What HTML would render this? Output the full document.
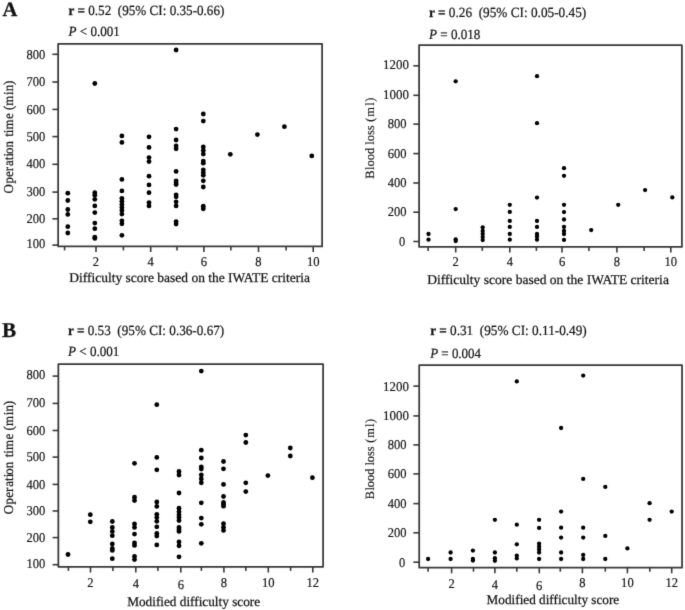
<!DOCTYPE html>
<html lang="en"><head><meta charset="utf-8"><title>Figure</title>
<style>html,body{margin:0;padding:0;background:#fff}body{width:685px;height:610px;overflow:hidden}svg{display:block}text{text-rendering:geometricPrecision;font-family:"Liberation Serif","Times New Roman",serif;font-size:14px;fill:#111;stroke:#222;stroke-width:0.22px}.tk line{stroke:#383838;stroke-width:1.6}.d circle{fill:#000}.pl{font-weight:bold;font-size:20.2px;stroke-width:0.3px}.b{font-weight:bold;stroke-width:0.3px}.i{font-style:italic}.ax{font-size:13.4px;stroke-width:0.25px}.ay{font-size:13.6px;stroke-width:0.25px}.ab{font-size:12.7px;stroke-width:0.15px}.tl{font-size:13.4px;stroke-width:0.2px}</style></head><body>
<svg width="685" height="610" viewBox="0 0 685 610">
<defs><filter id="soft" x="0" y="0" width="685" height="610" filterUnits="userSpaceOnUse" color-interpolation-filters="sRGB"><feConvolveMatrix order="3" kernelMatrix="0.01134 0.08382 0.01134 0.08382 0.61935 0.08382 0.01134 0.08382 0.01134" divisor="1" edgeMode="duplicate" preserveAlpha="false"/></filter></defs>
<g filter="url(#soft)">
<rect width="685" height="610" fill="#fff"/>
<text class="pl" x="2.5" y="15.6" style="font-size:20.6px">A</text>
<text class="pl" x="1.9" y="336.6" style="font-size:21.2px">B</text>
<text x="68.6" y="14.9" xml:space="preserve" textLength="155.8" lengthAdjust="spacingAndGlyphs"><tspan class="b">r =</tspan> 0.52  (95% CI: 0.35-0.66)</text>
<text x="68.6" y="36.0" xml:space="preserve" textLength="51.3" lengthAdjust="spacingAndGlyphs"><tspan class="i">P</tspan> &lt; 0.001</text>
<text x="429.0" y="17.1" xml:space="preserve" textLength="157.2" lengthAdjust="spacingAndGlyphs"><tspan class="b">r =</tspan> 0.26  (95% CI: 0.05-0.45)</text>
<text x="429.0" y="39.1" xml:space="preserve" textLength="51.4" lengthAdjust="spacingAndGlyphs"><tspan class="i">P</tspan> = 0.018</text>
<text x="68.0" y="334.5" xml:space="preserve" textLength="156.2" lengthAdjust="spacingAndGlyphs"><tspan class="b">r =</tspan> 0.53  (95% CI: 0.36-0.67)</text>
<text x="68.0" y="356.4" xml:space="preserve" textLength="51.3" lengthAdjust="spacingAndGlyphs"><tspan class="i">P</tspan> &lt; 0.001</text>
<text x="430.2" y="335.1" xml:space="preserve" textLength="156.6" lengthAdjust="spacingAndGlyphs"><tspan class="b">r =</tspan> 0.31  (95% CI: 0.11-0.49)</text>
<text x="430.2" y="357.5" xml:space="preserve" textLength="50.8" lengthAdjust="spacingAndGlyphs"><tspan class="i">P</tspan> = 0.004</text>
<g>
<rect x="58.15" y="43.75" width="263.95" height="202.65" fill="none" stroke="#383838" stroke-width="1.75" stroke-linejoin="round"/>
<g class="tk">
<line x1="52.4" y1="54.3" x2="58.1" y2="54.3"/>
<text class="tl" x="26.6" y="58.6" textLength="18.8" lengthAdjust="spacingAndGlyphs">800</text>
<line x1="52.4" y1="82.0" x2="58.1" y2="82.0"/>
<text class="tl" x="26.6" y="86.3" textLength="18.8" lengthAdjust="spacingAndGlyphs">700</text>
<line x1="52.4" y1="109.4" x2="58.1" y2="109.4"/>
<text class="tl" x="26.6" y="113.7" textLength="18.8" lengthAdjust="spacingAndGlyphs">600</text>
<line x1="52.4" y1="136.6" x2="58.1" y2="136.6"/>
<text class="tl" x="26.6" y="141.0" textLength="18.8" lengthAdjust="spacingAndGlyphs">500</text>
<line x1="52.4" y1="164.3" x2="58.1" y2="164.3"/>
<text class="tl" x="26.6" y="168.3" textLength="18.8" lengthAdjust="spacingAndGlyphs">400</text>
<line x1="52.4" y1="192.1" x2="58.1" y2="192.1"/>
<text class="tl" x="26.6" y="196.2" textLength="18.8" lengthAdjust="spacingAndGlyphs">300</text>
<line x1="52.4" y1="218.8" x2="58.1" y2="218.8"/>
<text class="tl" x="26.6" y="223.1" textLength="18.8" lengthAdjust="spacingAndGlyphs">200</text>
<line x1="52.4" y1="245.1" x2="58.1" y2="245.1"/>
<text class="tl" x="26.6" y="247.5" textLength="18.8" lengthAdjust="spacingAndGlyphs">100</text>
<line x1="64.6" y1="246.4" x2="64.6" y2="250.4"/>
<line x1="96.0" y1="246.4" x2="96.0" y2="252.0"/>
<text class="tl" x="92.8" y="265.8" textLength="6.3" lengthAdjust="spacingAndGlyphs">2</text>
<line x1="123.4" y1="246.4" x2="123.4" y2="250.4"/>
<line x1="150.7" y1="246.4" x2="150.7" y2="252.0"/>
<text class="tl" x="147.5" y="265.8" textLength="6.3" lengthAdjust="spacingAndGlyphs">4</text>
<line x1="177.0" y1="246.4" x2="177.0" y2="250.4"/>
<line x1="203.9" y1="246.4" x2="203.9" y2="252.0"/>
<text class="tl" x="200.8" y="266.4" textLength="6.3" lengthAdjust="spacingAndGlyphs">6</text>
<line x1="230.9" y1="246.4" x2="230.9" y2="250.4"/>
<line x1="258.5" y1="246.4" x2="258.5" y2="252.0"/>
<text class="tl" x="255.3" y="265.8" textLength="6.3" lengthAdjust="spacingAndGlyphs">8</text>
<line x1="286.1" y1="246.4" x2="286.1" y2="250.4"/>
<line x1="313.2" y1="246.4" x2="313.2" y2="252.0"/>
<text class="tl" x="306.9" y="265.8" textLength="12.6" lengthAdjust="spacingAndGlyphs">10</text>
</g>
<text class="ax" x="69.3" y="282.4" textLength="240.7" lengthAdjust="spacingAndGlyphs">Difficulty score based on the IWATE criteria</text>
<text class="ay" transform="translate(12.9,193.4) rotate(-90)" dx="0 0.5 0.3 0 1.0 0 0 -1.0 0 0 1.2 0 0 0.6 0 0 0 0.8 0 0" textLength="112.8" lengthAdjust="spacingAndGlyphs">Operation time (min)</text>
<g class="d">
<circle cx="67.8" cy="193.2" r="2.4"/>
<circle cx="67.8" cy="200.5" r="2.4"/>
<circle cx="67.8" cy="209.5" r="2.4"/>
<circle cx="67.8" cy="214.4" r="2.4"/>
<circle cx="67.8" cy="226.7" r="2.4"/>
<circle cx="67.8" cy="233.0" r="2.4"/>
<circle cx="94.8" cy="83.5" r="2.4"/>
<circle cx="94.8" cy="192.7" r="2.4"/>
<circle cx="94.8" cy="195.2" r="2.4"/>
<circle cx="94.8" cy="199.3" r="2.4"/>
<circle cx="94.8" cy="205.9" r="2.4"/>
<circle cx="94.8" cy="212.6" r="2.4"/>
<circle cx="94.8" cy="223.1" r="2.4"/>
<circle cx="94.8" cy="228.7" r="2.4"/>
<circle cx="94.8" cy="237.2" r="2.4"/>
<circle cx="94.8" cy="238.4" r="2.4"/>
<circle cx="121.9" cy="135.9" r="2.4"/>
<circle cx="121.9" cy="142.4" r="2.4"/>
<circle cx="121.9" cy="179.4" r="2.4"/>
<circle cx="121.9" cy="190.9" r="2.4"/>
<circle cx="121.9" cy="198.3" r="2.4"/>
<circle cx="121.9" cy="201.3" r="2.4"/>
<circle cx="121.9" cy="204.4" r="2.4"/>
<circle cx="121.9" cy="207.5" r="2.4"/>
<circle cx="121.9" cy="210.5" r="2.4"/>
<circle cx="121.9" cy="214.1" r="2.4"/>
<circle cx="121.9" cy="220.8" r="2.4"/>
<circle cx="121.9" cy="223.8" r="2.4"/>
<circle cx="121.9" cy="235.3" r="2.4"/>
<circle cx="149.0" cy="136.8" r="2.4"/>
<circle cx="149.0" cy="147.4" r="2.4"/>
<circle cx="149.0" cy="157.6" r="2.4"/>
<circle cx="149.0" cy="161.6" r="2.4"/>
<circle cx="149.0" cy="176.2" r="2.4"/>
<circle cx="149.0" cy="184.9" r="2.4"/>
<circle cx="149.0" cy="192.7" r="2.4"/>
<circle cx="149.0" cy="202.6" r="2.4"/>
<circle cx="149.0" cy="205.9" r="2.4"/>
<circle cx="176.1" cy="50.0" r="2.4"/>
<circle cx="176.1" cy="129.1" r="2.4"/>
<circle cx="176.1" cy="140.0" r="2.4"/>
<circle cx="176.1" cy="145.9" r="2.4"/>
<circle cx="176.1" cy="148.8" r="2.4"/>
<circle cx="176.1" cy="171.4" r="2.4"/>
<circle cx="176.1" cy="180.8" r="2.4"/>
<circle cx="176.1" cy="182.8" r="2.4"/>
<circle cx="176.1" cy="184.6" r="2.4"/>
<circle cx="176.1" cy="194.8" r="2.4"/>
<circle cx="176.1" cy="196.8" r="2.4"/>
<circle cx="176.1" cy="201.8" r="2.4"/>
<circle cx="176.1" cy="205.9" r="2.4"/>
<circle cx="176.1" cy="221.6" r="2.4"/>
<circle cx="176.1" cy="224.0" r="2.4"/>
<circle cx="203.3" cy="114.0" r="2.4"/>
<circle cx="203.3" cy="121.1" r="2.4"/>
<circle cx="203.3" cy="147.0" r="2.4"/>
<circle cx="203.3" cy="150.5" r="2.4"/>
<circle cx="203.3" cy="154.1" r="2.4"/>
<circle cx="203.3" cy="161.1" r="2.4"/>
<circle cx="203.3" cy="163.2" r="2.4"/>
<circle cx="203.3" cy="169.8" r="2.4"/>
<circle cx="203.3" cy="172.7" r="2.4"/>
<circle cx="203.3" cy="175.3" r="2.4"/>
<circle cx="203.3" cy="180.8" r="2.4"/>
<circle cx="203.3" cy="187.0" r="2.4"/>
<circle cx="203.3" cy="206.2" r="2.4"/>
<circle cx="203.3" cy="208.8" r="2.4"/>
<circle cx="230.3" cy="154.3" r="2.4"/>
<circle cx="257.4" cy="134.6" r="2.4"/>
<circle cx="284.4" cy="126.7" r="2.4"/>
<circle cx="311.8" cy="155.9" r="2.4"/>
</g></g>
<g>
<rect x="419.1" y="45.0" width="262.80" height="201.90" fill="none" stroke="#383838" stroke-width="1.75" stroke-linejoin="round"/>
<g class="tk">
<line x1="413.3" y1="65.8" x2="419.1" y2="65.8"/>
<text class="tl" x="383.1" y="69.1" textLength="25.8" lengthAdjust="spacingAndGlyphs">1200</text>
<line x1="413.3" y1="95.3" x2="419.1" y2="95.3"/>
<text class="tl" x="383.1" y="98.6" textLength="25.8" lengthAdjust="spacingAndGlyphs">1000</text>
<line x1="413.3" y1="124.1" x2="419.1" y2="124.1"/>
<text class="tl" x="387.8" y="128.0" textLength="18.8" lengthAdjust="spacingAndGlyphs">800</text>
<line x1="413.3" y1="153.6" x2="419.1" y2="153.6"/>
<text class="tl" x="387.8" y="157.5" textLength="18.8" lengthAdjust="spacingAndGlyphs">600</text>
<line x1="413.3" y1="183.0" x2="419.1" y2="183.0"/>
<text class="tl" x="387.8" y="186.9" textLength="18.8" lengthAdjust="spacingAndGlyphs">400</text>
<line x1="413.3" y1="212.2" x2="419.1" y2="212.2"/>
<text class="tl" x="387.8" y="216.1" textLength="18.8" lengthAdjust="spacingAndGlyphs">200</text>
<line x1="413.3" y1="241.5" x2="419.1" y2="241.5"/>
<text class="tl" x="399.1" y="245.5" textLength="6.2" lengthAdjust="spacingAndGlyphs">0</text>
<line x1="428.1" y1="246.9" x2="428.1" y2="250.9"/>
<line x1="455.7" y1="246.9" x2="455.7" y2="252.5"/>
<text class="tl" x="452.6" y="265.8" textLength="6.3" lengthAdjust="spacingAndGlyphs">2</text>
<line x1="482.3" y1="246.9" x2="482.3" y2="250.9"/>
<line x1="509.8" y1="246.9" x2="509.8" y2="252.5"/>
<text class="tl" x="506.7" y="265.8" textLength="6.3" lengthAdjust="spacingAndGlyphs">4</text>
<line x1="536.4" y1="246.9" x2="536.4" y2="250.9"/>
<line x1="562.0" y1="246.9" x2="562.0" y2="252.5"/>
<text class="tl" x="558.9" y="266.3" textLength="6.3" lengthAdjust="spacingAndGlyphs">6</text>
<line x1="588.9" y1="246.9" x2="588.9" y2="250.9"/>
<line x1="616.9" y1="246.9" x2="616.9" y2="252.5"/>
<text class="tl" x="613.8" y="265.8" textLength="6.3" lengthAdjust="spacingAndGlyphs">8</text>
<line x1="644.1" y1="246.9" x2="644.1" y2="250.9"/>
<line x1="670.8" y1="246.9" x2="670.8" y2="252.5"/>
<text class="tl" x="664.5" y="265.8" textLength="12.6" lengthAdjust="spacingAndGlyphs">10</text>
</g>
<text class="ax" x="427.3" y="283.5" textLength="241.6" lengthAdjust="spacingAndGlyphs">Difficulty score based on the IWATE criteria</text>
<text class="ab" transform="translate(373.6,178.8) rotate(-90)" dx="0 0.5 0 0 0 0 0 0 0 0 0 0.6 0.9 1.2 0.6" textLength="81.2" lengthAdjust="spacingAndGlyphs">Blood loss (ml)</text>
<g class="d">
<circle cx="428.5" cy="234.0" r="2.15"/>
<circle cx="428.5" cy="239.7" r="2.15"/>
<circle cx="455.7" cy="81.3" r="2.15"/>
<circle cx="455.7" cy="209.1" r="2.15"/>
<circle cx="455.7" cy="239.3" r="2.15"/>
<circle cx="455.7" cy="241.0" r="2.15"/>
<circle cx="482.7" cy="227.3" r="2.15"/>
<circle cx="482.7" cy="231.0" r="2.15"/>
<circle cx="482.7" cy="234.0" r="2.15"/>
<circle cx="482.7" cy="237.1" r="2.15"/>
<circle cx="482.7" cy="240.1" r="2.15"/>
<circle cx="509.8" cy="204.8" r="2.15"/>
<circle cx="509.8" cy="211.9" r="2.15"/>
<circle cx="509.8" cy="220.9" r="2.15"/>
<circle cx="509.8" cy="226.9" r="2.15"/>
<circle cx="509.8" cy="234.0" r="2.15"/>
<circle cx="509.8" cy="239.7" r="2.15"/>
<circle cx="537.0" cy="76.2" r="2.15"/>
<circle cx="537.0" cy="123.2" r="2.15"/>
<circle cx="537.0" cy="197.6" r="2.15"/>
<circle cx="537.0" cy="220.9" r="2.15"/>
<circle cx="537.0" cy="226.9" r="2.15"/>
<circle cx="537.0" cy="234.0" r="2.15"/>
<circle cx="537.0" cy="236.5" r="2.15"/>
<circle cx="537.0" cy="239.7" r="2.15"/>
<circle cx="564.0" cy="168.2" r="2.15"/>
<circle cx="564.0" cy="175.8" r="2.15"/>
<circle cx="564.0" cy="204.8" r="2.15"/>
<circle cx="564.0" cy="212.1" r="2.15"/>
<circle cx="564.0" cy="219.5" r="2.15"/>
<circle cx="564.0" cy="226.9" r="2.15"/>
<circle cx="564.0" cy="230.9" r="2.15"/>
<circle cx="564.0" cy="234.0" r="2.15"/>
<circle cx="564.0" cy="239.9" r="2.15"/>
<circle cx="591.2" cy="230.1" r="2.15"/>
<circle cx="618.2" cy="204.8" r="2.15"/>
<circle cx="645.1" cy="190.1" r="2.15"/>
<circle cx="672.3" cy="197.4" r="2.15"/>
</g></g>
<g>
<rect x="58.35" y="364.0" width="264.75" height="202.85" fill="none" stroke="#383838" stroke-width="1.75" stroke-linejoin="round"/>
<g class="tk">
<line x1="52.6" y1="376.1" x2="58.4" y2="376.1"/>
<text class="tl" x="26.6" y="379.1" textLength="18.8" lengthAdjust="spacingAndGlyphs">800</text>
<line x1="52.6" y1="403.4" x2="58.4" y2="403.4"/>
<text class="tl" x="26.6" y="407.4" textLength="18.8" lengthAdjust="spacingAndGlyphs">700</text>
<line x1="52.6" y1="430.5" x2="58.4" y2="430.5"/>
<text class="tl" x="26.6" y="434.7" textLength="18.8" lengthAdjust="spacingAndGlyphs">600</text>
<line x1="52.6" y1="457.1" x2="58.4" y2="457.1"/>
<text class="tl" x="26.6" y="461.1" textLength="18.8" lengthAdjust="spacingAndGlyphs">500</text>
<line x1="52.6" y1="484.4" x2="58.4" y2="484.4"/>
<text class="tl" x="26.6" y="488.7" textLength="18.8" lengthAdjust="spacingAndGlyphs">400</text>
<line x1="52.6" y1="511.0" x2="58.4" y2="511.0"/>
<text class="tl" x="26.6" y="515.3" textLength="18.8" lengthAdjust="spacingAndGlyphs">300</text>
<line x1="52.6" y1="537.6" x2="58.4" y2="537.6"/>
<text class="tl" x="26.6" y="541.9" textLength="18.8" lengthAdjust="spacingAndGlyphs">200</text>
<line x1="52.6" y1="564.7" x2="58.4" y2="564.7"/>
<text class="tl" x="26.6" y="567.5" textLength="18.8" lengthAdjust="spacingAndGlyphs">100</text>
<line x1="68.4" y1="566.9" x2="68.4" y2="570.9"/>
<line x1="90.5" y1="566.9" x2="90.5" y2="572.5"/>
<text class="tl" x="87.3" y="587.2" textLength="6.3" lengthAdjust="spacingAndGlyphs">2</text>
<line x1="112.9" y1="566.9" x2="112.9" y2="570.9"/>
<line x1="135.8" y1="566.9" x2="135.8" y2="572.5"/>
<text class="tl" x="132.7" y="587.8" textLength="6.3" lengthAdjust="spacingAndGlyphs">4</text>
<line x1="157.9" y1="566.9" x2="157.9" y2="570.9"/>
<line x1="180.8" y1="566.9" x2="180.8" y2="572.5"/>
<text class="tl" x="177.7" y="588.6" textLength="6.3" lengthAdjust="spacingAndGlyphs">6</text>
<line x1="201.4" y1="566.9" x2="201.4" y2="570.9"/>
<line x1="223.9" y1="566.9" x2="223.9" y2="572.5"/>
<text class="tl" x="220.8" y="586.7" textLength="6.3" lengthAdjust="spacingAndGlyphs">8</text>
<line x1="245.8" y1="566.9" x2="245.8" y2="570.9"/>
<line x1="268.3" y1="566.9" x2="268.3" y2="572.5"/>
<text class="tl" x="262.0" y="586.7" textLength="12.6" lengthAdjust="spacingAndGlyphs">10</text>
<line x1="290.6" y1="566.9" x2="290.6" y2="570.9"/>
<line x1="312.8" y1="566.9" x2="312.8" y2="572.5"/>
<text class="tl" x="306.5" y="586.7" textLength="12.6" lengthAdjust="spacingAndGlyphs">12</text>
</g>
<text class="ax" x="127.2" y="605.5" textLength="132.9" lengthAdjust="spacingAndGlyphs">Modified difficulty score</text>
<text class="ay" transform="translate(12.9,514.3) rotate(-90)" dx="0 0.5 0.3 0 1.0 0 0 -1.0 0 0 1.2 0 0 0.6 0 0 0 0.8 0 0" textLength="113.5" lengthAdjust="spacingAndGlyphs">Operation time (min)</text>
<g class="d">
<circle cx="68.0" cy="554.5" r="2.4"/>
<circle cx="90.3" cy="514.7" r="2.4"/>
<circle cx="90.3" cy="521.8" r="2.4"/>
<circle cx="112.3" cy="521.5" r="2.4"/>
<circle cx="112.3" cy="527.4" r="2.4"/>
<circle cx="112.3" cy="531.4" r="2.4"/>
<circle cx="112.3" cy="535.7" r="2.4"/>
<circle cx="112.3" cy="543.9" r="2.4"/>
<circle cx="112.3" cy="548.5" r="2.4"/>
<circle cx="112.3" cy="550.4" r="2.4"/>
<circle cx="112.3" cy="558.7" r="2.4"/>
<circle cx="134.5" cy="463.3" r="2.4"/>
<circle cx="134.5" cy="497.2" r="2.4"/>
<circle cx="134.5" cy="500.5" r="2.4"/>
<circle cx="134.5" cy="523.9" r="2.4"/>
<circle cx="134.5" cy="527.4" r="2.4"/>
<circle cx="134.5" cy="534.1" r="2.4"/>
<circle cx="134.5" cy="543.0" r="2.4"/>
<circle cx="134.5" cy="545.4" r="2.4"/>
<circle cx="134.5" cy="556.4" r="2.4"/>
<circle cx="134.5" cy="559.6" r="2.4"/>
<circle cx="156.8" cy="404.7" r="2.4"/>
<circle cx="156.8" cy="457.4" r="2.4"/>
<circle cx="156.8" cy="469.8" r="2.4"/>
<circle cx="156.8" cy="502.0" r="2.4"/>
<circle cx="156.8" cy="506.4" r="2.4"/>
<circle cx="156.8" cy="514.3" r="2.4"/>
<circle cx="156.8" cy="517.6" r="2.4"/>
<circle cx="156.8" cy="521.3" r="2.4"/>
<circle cx="156.8" cy="526.8" r="2.4"/>
<circle cx="156.8" cy="533.4" r="2.4"/>
<circle cx="156.8" cy="536.0" r="2.4"/>
<circle cx="156.8" cy="544.9" r="2.4"/>
<circle cx="179.0" cy="471.4" r="2.4"/>
<circle cx="179.0" cy="475.0" r="2.4"/>
<circle cx="179.0" cy="493.0" r="2.4"/>
<circle cx="179.0" cy="508.2" r="2.4"/>
<circle cx="179.0" cy="511.7" r="2.4"/>
<circle cx="179.0" cy="515.0" r="2.4"/>
<circle cx="179.0" cy="517.6" r="2.4"/>
<circle cx="179.0" cy="520.5" r="2.4"/>
<circle cx="179.0" cy="527.4" r="2.4"/>
<circle cx="179.0" cy="529.4" r="2.4"/>
<circle cx="179.0" cy="531.4" r="2.4"/>
<circle cx="179.0" cy="541.9" r="2.4"/>
<circle cx="179.0" cy="545.8" r="2.4"/>
<circle cx="179.0" cy="556.8" r="2.4"/>
<circle cx="201.3" cy="371.1" r="2.4"/>
<circle cx="201.3" cy="450.2" r="2.4"/>
<circle cx="201.3" cy="458.0" r="2.4"/>
<circle cx="201.3" cy="466.8" r="2.4"/>
<circle cx="201.3" cy="469.0" r="2.4"/>
<circle cx="201.3" cy="475.0" r="2.4"/>
<circle cx="201.3" cy="479.0" r="2.4"/>
<circle cx="201.3" cy="482.8" r="2.4"/>
<circle cx="201.3" cy="502.8" r="2.4"/>
<circle cx="201.3" cy="518.1" r="2.4"/>
<circle cx="201.3" cy="524.3" r="2.4"/>
<circle cx="201.3" cy="543.3" r="2.4"/>
<circle cx="223.5" cy="461.5" r="2.4"/>
<circle cx="223.5" cy="468.8" r="2.4"/>
<circle cx="223.5" cy="484.4" r="2.4"/>
<circle cx="223.5" cy="496.5" r="2.4"/>
<circle cx="223.5" cy="502.5" r="2.4"/>
<circle cx="223.5" cy="504.2" r="2.4"/>
<circle cx="223.5" cy="506.2" r="2.4"/>
<circle cx="223.5" cy="523.7" r="2.4"/>
<circle cx="223.5" cy="527.3" r="2.4"/>
<circle cx="223.5" cy="530.4" r="2.4"/>
<circle cx="245.8" cy="435.1" r="2.4"/>
<circle cx="245.8" cy="442.5" r="2.4"/>
<circle cx="245.8" cy="482.8" r="2.4"/>
<circle cx="245.8" cy="491.6" r="2.4"/>
<circle cx="267.9" cy="475.6" r="2.4"/>
<circle cx="290.3" cy="448.0" r="2.4"/>
<circle cx="290.3" cy="456.0" r="2.4"/>
<circle cx="312.4" cy="477.7" r="2.4"/>
</g></g>
<g>
<rect x="419.2" y="365.0" width="262.85" height="202.70" fill="none" stroke="#383838" stroke-width="1.75" stroke-linejoin="round"/>
<g class="tk">
<line x1="413.4" y1="386.1" x2="419.2" y2="386.1"/>
<text class="tl" x="383.1" y="390.5" textLength="25.8" lengthAdjust="spacingAndGlyphs">1200</text>
<line x1="413.4" y1="415.9" x2="419.2" y2="415.9"/>
<text class="tl" x="383.1" y="420.3" textLength="25.8" lengthAdjust="spacingAndGlyphs">1000</text>
<line x1="413.4" y1="444.9" x2="419.2" y2="444.9"/>
<text class="tl" x="387.8" y="449.3" textLength="18.8" lengthAdjust="spacingAndGlyphs">800</text>
<line x1="413.4" y1="473.9" x2="419.2" y2="473.9"/>
<text class="tl" x="387.8" y="478.4" textLength="18.8" lengthAdjust="spacingAndGlyphs">600</text>
<line x1="413.4" y1="503.6" x2="419.2" y2="503.6"/>
<text class="tl" x="387.8" y="508.0" textLength="18.8" lengthAdjust="spacingAndGlyphs">400</text>
<line x1="413.4" y1="532.8" x2="419.2" y2="532.8"/>
<text class="tl" x="387.8" y="537.2" textLength="18.8" lengthAdjust="spacingAndGlyphs">200</text>
<line x1="413.4" y1="562.2" x2="419.2" y2="562.2"/>
<text class="tl" x="399.1" y="566.7" textLength="6.2" lengthAdjust="spacingAndGlyphs">0</text>
<line x1="428.1" y1="567.7" x2="428.1" y2="571.7"/>
<line x1="451.6" y1="567.7" x2="451.6" y2="573.3"/>
<text class="tl" x="448.5" y="587.9" textLength="6.3" lengthAdjust="spacingAndGlyphs">2</text>
<line x1="473.5" y1="567.7" x2="473.5" y2="571.7"/>
<line x1="494.9" y1="567.7" x2="494.9" y2="573.3"/>
<text class="tl" x="491.8" y="588.9" textLength="6.3" lengthAdjust="spacingAndGlyphs">4</text>
<line x1="516.8" y1="567.7" x2="516.8" y2="571.7"/>
<line x1="539.3" y1="567.7" x2="539.3" y2="573.3"/>
<text class="tl" x="536.1" y="589.5" textLength="6.3" lengthAdjust="spacingAndGlyphs">6</text>
<line x1="560.3" y1="567.7" x2="560.3" y2="571.7"/>
<line x1="582.4" y1="567.7" x2="582.4" y2="573.3"/>
<text class="tl" x="579.2" y="587.2" textLength="6.3" lengthAdjust="spacingAndGlyphs">8</text>
<line x1="605.3" y1="567.7" x2="605.3" y2="571.7"/>
<line x1="627.4" y1="567.7" x2="627.4" y2="573.3"/>
<text class="tl" x="621.1" y="587.2" textLength="12.6" lengthAdjust="spacingAndGlyphs">10</text>
<line x1="649.8" y1="567.7" x2="649.8" y2="571.7"/>
<line x1="671.7" y1="567.7" x2="671.7" y2="573.3"/>
<text class="tl" x="665.4" y="587.2" textLength="12.6" lengthAdjust="spacingAndGlyphs">12</text>
</g>
<text class="ax" x="486.6" y="604.3" textLength="132.6" lengthAdjust="spacingAndGlyphs">Modified difficulty score</text>
<text class="ab" transform="translate(373.5,499.3) rotate(-90)" dx="0 0.5 0 0 0 0 0 0 0 0 0 0.6 0.9 1.2 0.6" textLength="80.4" lengthAdjust="spacingAndGlyphs">Blood loss (ml)</text>
<g class="d">
<circle cx="428.1" cy="559.0" r="2.15"/>
<circle cx="450.6" cy="552.5" r="2.15"/>
<circle cx="450.6" cy="559.0" r="2.15"/>
<circle cx="472.9" cy="550.6" r="2.15"/>
<circle cx="472.9" cy="558.9" r="2.15"/>
<circle cx="472.9" cy="560.6" r="2.15"/>
<circle cx="494.9" cy="519.8" r="2.15"/>
<circle cx="494.9" cy="552.5" r="2.15"/>
<circle cx="494.9" cy="558.2" r="2.15"/>
<circle cx="494.9" cy="560.8" r="2.15"/>
<circle cx="516.8" cy="381.4" r="2.15"/>
<circle cx="516.8" cy="524.7" r="2.15"/>
<circle cx="516.8" cy="544.3" r="2.15"/>
<circle cx="516.8" cy="555.6" r="2.15"/>
<circle cx="516.8" cy="558.4" r="2.15"/>
<circle cx="539.1" cy="519.8" r="2.15"/>
<circle cx="539.1" cy="527.9" r="2.15"/>
<circle cx="539.1" cy="543.7" r="2.15"/>
<circle cx="539.1" cy="546.7" r="2.15"/>
<circle cx="539.1" cy="549.4" r="2.15"/>
<circle cx="539.1" cy="552.5" r="2.15"/>
<circle cx="539.1" cy="559.0" r="2.15"/>
<circle cx="561.1" cy="428.0" r="2.15"/>
<circle cx="561.1" cy="511.6" r="2.15"/>
<circle cx="561.1" cy="527.7" r="2.15"/>
<circle cx="561.1" cy="537.6" r="2.15"/>
<circle cx="561.1" cy="552.5" r="2.15"/>
<circle cx="561.1" cy="559.0" r="2.15"/>
<circle cx="583.2" cy="375.6" r="2.15"/>
<circle cx="583.2" cy="478.9" r="2.15"/>
<circle cx="583.2" cy="527.7" r="2.15"/>
<circle cx="583.2" cy="537.6" r="2.15"/>
<circle cx="583.2" cy="554.9" r="2.15"/>
<circle cx="583.2" cy="559.0" r="2.15"/>
<circle cx="605.3" cy="486.9" r="2.15"/>
<circle cx="605.3" cy="535.9" r="2.15"/>
<circle cx="605.3" cy="559.0" r="2.15"/>
<circle cx="627.4" cy="548.4" r="2.15"/>
<circle cx="649.6" cy="503.2" r="2.15"/>
<circle cx="649.6" cy="519.8" r="2.15"/>
<circle cx="671.7" cy="511.6" r="2.15"/>
</g></g>
</g></svg></body></html>
